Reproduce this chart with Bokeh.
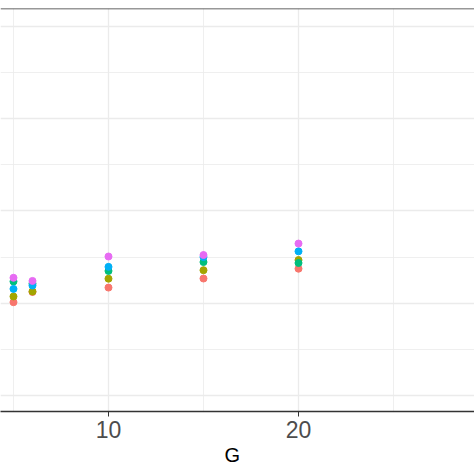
from bokeh.plotting import figure
from bokeh.models import FixedTicker, Span, Title
from bokeh.embed import file_html
from bokeh.resources import INLINE

# x positions (G) and the five series
g = [5, 6, 10, 15, 20]
s_red = [1.007, 1.062, 1.086, 1.135, 1.188]
s_olive = [1.038, 1.065, 1.134, 1.180, 1.235]
s_green = [1.119, 1.108, 1.176, 1.224, 1.219]
s_blue = [1.079, 1.097, 1.198, 1.251, 1.282]
s_violet = [1.139, 1.122, 1.254, 1.262, 1.324]

series = [s_red, s_olive, s_green, s_blue, s_violet]
colors = ["#F8766D", "#A3A500", "#00BF7D", "#00B0F6", "#E76BF3"]

x_ticks = [0, 10, 20, 30]
x_minor = [5, 15, 25]
y_ticks = [0.5, 1.0, 1.5, 2.0, 2.5]
y_minor = [0.75, 1.25, 1.75, 2.25]

p = figure(width=474, height=474, x_range=(4.316, 29.263), y_range=(0.4162, 2.5946),
           y_axis_location=None, toolbar_location=None, output_backend="svg",
           min_border_left=0, min_border_right=0, min_border_top=8, min_border_bottom=63)
p.title.visible = False
p.outline_line_color = None
p.background_fill_color = "white"
p.border_fill_color = "white"

for vals, c in zip(series, colors):
    p.scatter(g, vals, size=7, fill_color=c, line_color=c)

p.xaxis.ticker = FixedTicker(ticks=x_ticks, minor_ticks=x_minor)
p.xgrid.ticker = p.xaxis.ticker
p.ygrid.ticker = FixedTicker(ticks=y_ticks, minor_ticks=y_minor)
for grid in [p.xgrid, p.ygrid]:
    grid.grid_line_color = "#EBEBEB"
    grid.grid_line_width = 1.3
    grid.minor_grid_line_color = "#EBEBEB"
    grid.minor_grid_line_width = 0.8

ax = p.xaxis[0]
ax.axis_line_color = "#333333"
ax.axis_line_width = 1.3
ax.major_tick_line_color = "#333333"
ax.major_tick_out = 5
ax.major_tick_in = 0
ax.minor_tick_line_color = None
ax.major_label_text_font = "Liberation Sans"
ax.major_label_text_font_size = "23px"
ax.major_label_text_color = "#4D4D4D"
ax.major_label_standoff = 4

# panel border on top
p.add_layout(Span(location=2.5946, dimension="width", line_color="#333333", line_width=1.4))

# axis title, set off-centre as in the original (its panel is wider than this crop)
p.add_layout(Title(text="G", align="left", offset=224, text_font="Liberation Sans",
                   text_font_size="20px", text_font_style="normal", text_color="black",
                   standoff=3), "below")

open("out.html", "w").write(file_html(p, INLINE))
